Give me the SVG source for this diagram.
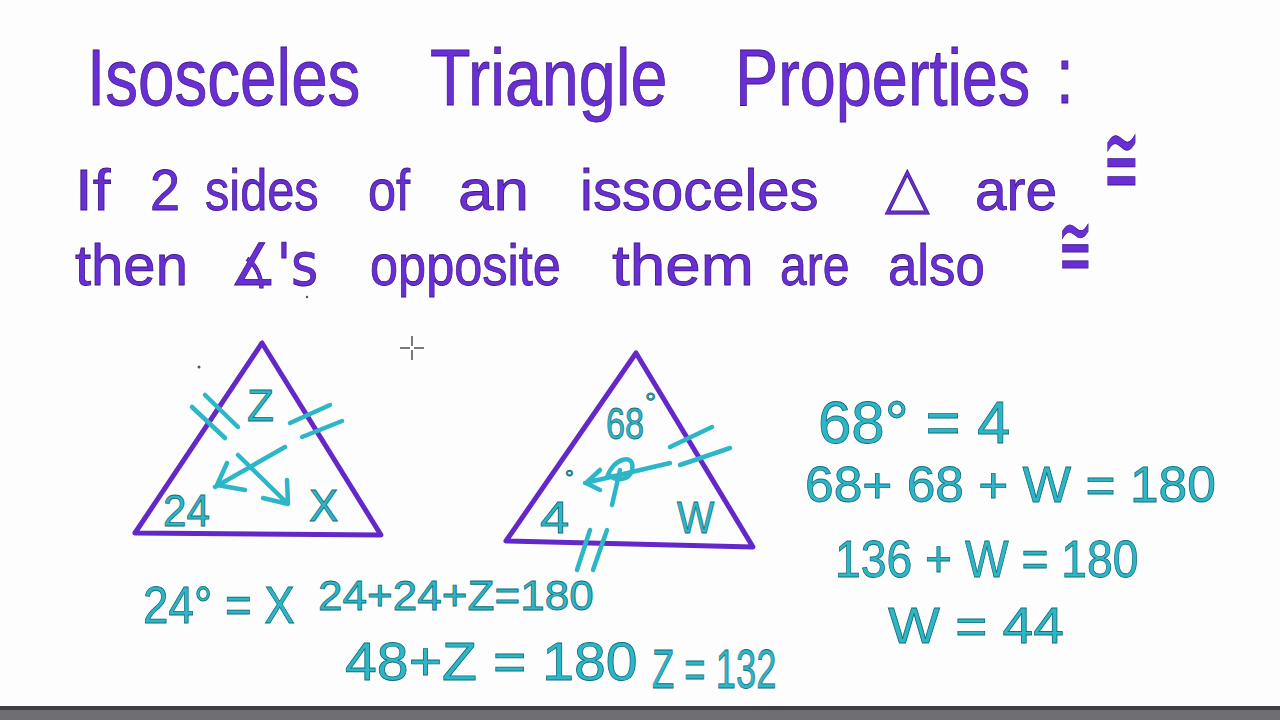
<svg xmlns="http://www.w3.org/2000/svg" width="1280" height="720" viewBox="0 0 1280 720">
  <style>
    .p { fill: #6a2fd4; stroke: #3b1685; stroke-width: 0.8; font-family: "Liberation Sans", "DejaVu Sans", sans-serif; }
    .c { fill: #2db6c8; stroke: #136d78; stroke-width: 0.8; font-family: "Liberation Sans", "DejaVu Sans", sans-serif; }
    .sym { font-family: "DejaVu Sans", sans-serif; }
    .tri { fill: none; stroke: #6428c8; stroke-width: 5; stroke-linejoin: round; stroke-linecap: round; }
    .ink { fill: none; stroke: #2db6c8; stroke-width: 4.5; stroke-linecap: round; stroke-linejoin: round; }
  </style>
  <rect x="0" y="0" width="1280" height="720" fill="#fdfdfd"/>

  <!-- Title -->
  <g id="title" class="p" font-size="80">
    <text transform="translate(87 105) scale(0.82 1)">Isosceles</text>
    <text transform="translate(430 105) scale(0.83 1)">Triangle</text>
    <text transform="translate(735 105) scale(0.81 1)">Properties</text>
    <text transform="translate(1056 103) scale(0.8 1)">:</text>
  </g>

  <!-- Statement -->
  <g id="statement" class="p" font-size="58">
    <text transform="translate(75 210) scale(1.1 1)">If</text>
    <text transform="translate(150 210) scale(0.93 1)">2</text>
    <text transform="translate(205 210) scale(0.84 1)">sides</text>
    <text transform="translate(368 210) scale(0.87 1)">of</text>
    <text transform="translate(458 210) scale(1.1 1)">an</text>
    <text transform="translate(580 210)">issoceles</text>
    <text class="sym" transform="translate(885 207)">△</text>
    <text transform="translate(975 210) scale(0.98 1)">are</text>
    <text class="sym" font-size="100" transform="translate(1103 194) scale(0.44 1)">≅</text>

    <text transform="translate(75 285)">then</text>
    <text class="sym" transform="translate(230 285) scale(0.9 1)">∡'s</text>
    <text transform="translate(370 285) scale(0.87 1)">opposite</text>
    <text transform="translate(612 285) scale(1.1 1)">them</text>
    <text transform="translate(780 285) scale(0.83 1)">are</text>
    <text transform="translate(888 285) scale(0.91 1)">also</text>
    <text class="sym" font-size="88" transform="translate(1058 276) scale(0.47 1)">≅</text>
  </g>

  <!-- stray marks -->
  <circle cx="199" cy="367" r="1.5" fill="#555"/>
  <circle cx="307" cy="297" r="1.2" fill="#555"/>
  <g id="cursor" stroke="#222" stroke-width="1.2">
    <line x1="400" y1="348" x2="410" y2="348"/>
    <line x1="414" y1="348" x2="424" y2="348"/>
    <line x1="412" y1="336" x2="412" y2="346"/>
    <line x1="412" y1="350" x2="412" y2="360"/>
  </g>

  <!-- Left triangle -->
  <g id="triangle-left">
    <polygon class="tri" points="262,343 135,533 381,535"/>
    <path class="ink" d="M192,407 L225,438 M205,395 L238,427"/>
    <path class="ink" d="M290,423 L330,405 M302,437 L342,421"/>
    <path class="ink" d="M285,447 L215,487 M227,463 L217,485 L245,490"/>
    <path class="ink" d="M238,455 L287,503 M287,480 L288,504 L263,498"/>
    <g class="c" font-size="44">
      <text transform="translate(247 421)">Z</text>
      <text transform="translate(163 526) scale(0.96 1)">24</text>
      <text transform="translate(309 521)">X</text>
    </g>
  </g>

  <!-- Right triangle -->
  <g id="triangle-right">
    <polygon class="tri" points="636,353 506,541 753,547"/>
    <path class="ink" d="M670,447 L712,427 M680,465 L730,448"/>
    <path class="ink" d="M577,570 L590,530 M593,570 L607,530"/>
    <path class="ink" d="M670,463 L585,483 M600,470 L586,483 L600,490"/>
    <path class="ink" d="M607,478 C612,458 636,452 632,470 C629,482 615,480 610,476 M620,470 L612,505"/>
    <g class="c" font-size="44">
      <text transform="translate(606 439) scale(0.78 1)">68</text>
      <text font-size="28" transform="translate(645 412)">°</text>
      <text transform="translate(540 533) scale(1.2 1)">4</text>
      <text font-size="22" transform="translate(565 486)">°</text>
      <text transform="translate(677 533) scale(0.9 1)">W</text>
    </g>
  </g>

  <!-- Left equations -->
  <g id="equations-left" class="c">
    <text font-size="52" transform="translate(143 623) scale(0.88 1)">24° = X</text>
    <text font-size="42" transform="translate(318 610) scale(1.05 1)">24+24+Z=180</text>
    <text font-size="54" transform="translate(345 680) scale(1.06 1)">48+Z = 180</text>
    <text font-size="56" transform="translate(652 688) scale(0.65 1)">Z = 132</text>
  </g>

  <!-- Right equations -->
  <g id="equations-right" class="c">
    <text font-size="60" transform="translate(818 443)">68° = 4</text>
    <text font-size="50" transform="translate(805 502) scale(1.03 1)">68+ 68 + W = 180</text>
    <text font-size="52" transform="translate(835 577) scale(0.89 1)">136 + W = 180</text>
    <text font-size="50" transform="translate(888 643) scale(1.1 1)">W = 44</text>
  </g>

  <!-- bottom bar -->
  <rect x="0" y="706" width="1280" height="4" fill="#3e3e46"/>
  <rect x="0" y="710" width="1280" height="10" fill="#6e6e74"/>
</svg>
